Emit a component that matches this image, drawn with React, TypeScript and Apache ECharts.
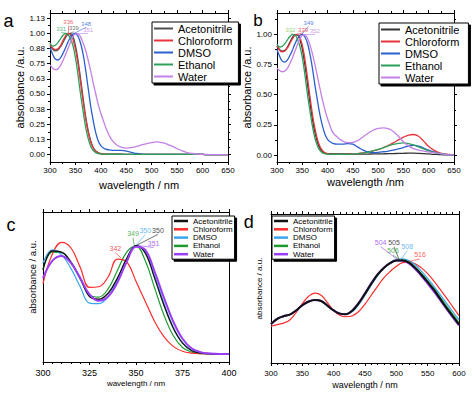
import React, { useEffect, useRef } from 'react';
import * as echarts from 'echarts';

const FONT = "'Liberation Sans', Arial, Helvetica, sans-serif";
const SOLVENTS = ['Acetonitrile', 'Chloroform', 'DMSO', 'Ethanol', 'Water'];

// ---------- panel a / b wavelengths ----------
const wavelengthAB = [300, 305, 310, 315, 320, 325, 330, 335, 340, 345, 350, 355, 360, 365, 370, 375, 380, 385, 390, 395, 400, 405, 410,
  420, 430, 440, 450, 460, 470, 480, 490, 500, 510, 520, 530, 540, 550, 560, 570, 580, 590, 600, 610, 620, 630, 640, 650];

const aAcetonitrile = [0.90, 0.87, 0.855, 0.86, 0.885, 0.92, 0.96, 0.99, 1.0, 0.975, 0.90, 0.78, 0.63, 0.47, 0.32, 0.20, 0.115, 0.06, 0.03, 0.016, 0.01, 0.007, 0.005,
  0.004, 0.004, 0.004, 0.003, 0.003, 0.003, 0.003, 0.003, 0.003, 0.003, 0.003, 0.003, 0.003, 0.003, 0.003, 0.003, 0.002, 0.002, 0.002, 0.001, 0.001, 0.001, 0, 0];
const aChloroform = [0.91, 0.88, 0.865, 0.87, 0.895, 0.935, 0.975, 1.0, 0.99, 0.95, 0.87, 0.75, 0.60, 0.44, 0.30, 0.185, 0.105, 0.055, 0.027, 0.013, 0.008, 0.006, 0.005,
  0.004, 0.004, 0.004, 0.003, 0.003, 0.003, 0.003, 0.003, 0.003, 0.003, 0.003, 0.003, 0.003, 0.003, 0.003, 0.003, 0.002, 0.002, 0.002, 0.001, 0.001, 0.001, 0, 0];
const aDMSO = [0.88, 0.83, 0.79, 0.78, 0.795, 0.83, 0.875, 0.925, 0.965, 0.993, 0.998, 0.975, 0.92, 0.83, 0.70, 0.55, 0.40, 0.28, 0.18, 0.11, 0.075, 0.055, 0.045,
  0.038, 0.036, 0.035, 0.030, 0.020, 0.010, 0.005, 0.003, 0.003, 0.003, 0.003, 0.003, 0.003, 0.003, 0.003, 0.003, 0.002, 0.002, 0.002, 0.001, 0.001, 0.001, 0, 0];
const aEthanol = [0.92, 0.895, 0.90, 0.92, 0.95, 0.98, 0.998, 0.99, 0.96, 0.90, 0.80, 0.66, 0.50, 0.36, 0.23, 0.135, 0.07, 0.035, 0.017, 0.009, 0.006, 0.005, 0.004,
  0.004, 0.004, 0.004, 0.003, 0.003, 0.003, 0.003, 0.003, 0.003, 0.003, 0.003, 0.003, 0.003, 0.003, 0.003, 0.003, 0.002, 0.002, 0.002, 0.001, 0.001, 0.001, 0, 0];
const aWater = [0.74, 0.715, 0.70, 0.705, 0.73, 0.77, 0.82, 0.87, 0.925, 0.97, 0.995, 0.995, 0.97, 0.92, 0.86, 0.78, 0.69, 0.59, 0.50, 0.41, 0.34, 0.28, 0.22,
  0.13, 0.085, 0.063, 0.055, 0.058, 0.068, 0.08, 0.092, 0.10, 0.105, 0.10, 0.088, 0.07, 0.05, 0.032, 0.018, 0.01, 0.005, 0.003, 0.002, 0.001, 0.001, 0, 0];

const bAcetonitrile = [0.905, 0.875, 0.86, 0.865, 0.89, 0.93, 0.97, 0.995, 0.995, 0.96, 0.88, 0.75, 0.60, 0.44, 0.30, 0.185, 0.105, 0.055, 0.027, 0.015, 0.012, 0.011, 0.01,
  0.01, 0.009, 0.009, 0.008, 0.008, 0.008, 0.008, 0.009, 0.009, 0.01, 0.011, 0.012, 0.013, 0.014, 0.015, 0.015, 0.014, 0.012, 0.009, 0.006, 0.004, 0.002, 0.001, 0];
const bChloroform = [0.90, 0.87, 0.855, 0.86, 0.885, 0.92, 0.96, 0.99, 1.0, 0.975, 0.91, 0.80, 0.65, 0.49, 0.34, 0.22, 0.13, 0.07, 0.035, 0.018, 0.01, 0.008, 0.006,
  0.005, 0.005, 0.006, 0.008, 0.012, 0.018, 0.025, 0.034, 0.045, 0.06, 0.08, 0.10, 0.125, 0.148, 0.165, 0.17, 0.155, 0.115, 0.07, 0.04, 0.02, 0.01, 0.004, 0];
const bDMSO = [0.875, 0.82, 0.78, 0.77, 0.785, 0.82, 0.865, 0.915, 0.96, 0.99, 1.0, 0.98, 0.93, 0.84, 0.72, 0.58, 0.45, 0.33, 0.24, 0.17, 0.13, 0.11, 0.097,
  0.09, 0.09, 0.095, 0.09, 0.065, 0.04, 0.025, 0.02, 0.022, 0.027, 0.033, 0.04, 0.05, 0.062, 0.074, 0.08, 0.074, 0.058, 0.04, 0.025, 0.014, 0.007, 0.003, 0];
const bEthanol = [0.92, 0.895, 0.90, 0.92, 0.95, 0.98, 0.997, 0.995, 0.965, 0.905, 0.81, 0.67, 0.51, 0.37, 0.24, 0.14, 0.075, 0.037, 0.018, 0.01, 0.007, 0.006, 0.005,
  0.005, 0.005, 0.006, 0.008, 0.011, 0.016, 0.024, 0.034, 0.046, 0.06, 0.075, 0.088, 0.097, 0.10, 0.095, 0.083, 0.067, 0.05, 0.035, 0.022, 0.013, 0.007, 0.003, 0];
const bWater = [0.72, 0.70, 0.69, 0.695, 0.715, 0.755, 0.80, 0.855, 0.91, 0.96, 0.99, 0.995, 0.97, 0.915, 0.84, 0.75, 0.65, 0.55, 0.455, 0.37, 0.30, 0.24, 0.19,
  0.145, 0.115, 0.102, 0.105, 0.12, 0.15, 0.18, 0.205, 0.22, 0.225, 0.218, 0.195, 0.155, 0.11, 0.075, 0.053, 0.04, 0.032, 0.026, 0.019, 0.013, 0.007, 0.003, 0];

// ---------- panel c ----------
const wavelengthC = [300, 305, 310, 315, 320, 325, 330, 335, 340, 345, 350, 355, 360, 365, 370, 375, 380, 385, 390, 395, 400];
const cAcetonitrile = [0.776, 0.95, 0.94, 0.85, 0.70, 0.53, 0.505, 0.56, 0.70, 0.88, 1.0, 0.93, 0.70, 0.45, 0.24, 0.10, 0.03, 0.008, 0.002, 0, 0];
const cChloroform = [0.65, 0.92, 1.03, 0.98, 0.80, 0.615, 0.62, 0.71, 0.875, 0.85, 0.67, 0.485, 0.30, 0.16, 0.07, 0.025, 0.008, 0.002, 0, 0, 0];
const cDMSO = [0.84, 0.96, 0.915, 0.79, 0.62, 0.47, 0.465, 0.53, 0.69, 0.88, 1.0, 0.94, 0.72, 0.47, 0.25, 0.105, 0.035, 0.01, 0.002, 0, 0];
const cEthanol = [0.78, 0.94, 0.935, 0.84, 0.69, 0.545, 0.525, 0.60, 0.77, 0.94, 0.995, 0.86, 0.61, 0.36, 0.17, 0.06, 0.017, 0.004, 0, 0, 0];
const cWater = [0.70, 0.86, 0.905, 0.84, 0.70, 0.55, 0.49, 0.53, 0.66, 0.85, 0.99, 0.96, 0.76, 0.52, 0.30, 0.14, 0.05, 0.015, 0.004, 0, 0];

// ---------- panel d ----------
const wavelengthD = [300, 310, 320, 330, 340, 350, 360, 370, 380, 390, 400, 410, 420, 430, 440, 450, 460, 470, 480, 490, 500, 510, 520, 530, 540, 550, 560, 570, 580, 590, 600];
const dAcetonitrile = [0.37, 0.42, 0.445, 0.46, 0.50, 0.55, 0.585, 0.60, 0.59, 0.545, 0.50, 0.47, 0.465, 0.50, 0.57, 0.66, 0.755, 0.84, 0.905, 0.95, 0.975, 0.975, 0.955, 0.905, 0.84, 0.77, 0.695, 0.61, 0.525, 0.445, 0.365];
const dChloroform = [0.35, 0.365, 0.38, 0.41, 0.48, 0.565, 0.635, 0.665, 0.645, 0.575, 0.50, 0.455, 0.44, 0.45, 0.49, 0.56, 0.645, 0.73, 0.81, 0.87, 0.92, 0.955, 0.96, 0.945, 0.905, 0.85, 0.78, 0.70, 0.62, 0.535, 0.45];
const dDMSO = [0.375, 0.425, 0.447, 0.462, 0.50, 0.55, 0.585, 0.60, 0.59, 0.548, 0.503, 0.473, 0.465, 0.49, 0.555, 0.645, 0.74, 0.83, 0.90, 0.955, 0.985, 0.99, 0.975, 0.935, 0.875, 0.805, 0.73, 0.65, 0.57, 0.49, 0.41];
const dEthanol = [0.373, 0.423, 0.446, 0.461, 0.50, 0.55, 0.585, 0.60, 0.59, 0.546, 0.501, 0.471, 0.465, 0.495, 0.562, 0.652, 0.748, 0.836, 0.904, 0.952, 0.98, 0.982, 0.962, 0.915, 0.852, 0.783, 0.71, 0.628, 0.545, 0.465, 0.385];
const dWater = [0.368, 0.42, 0.445, 0.46, 0.50, 0.55, 0.585, 0.60, 0.59, 0.545, 0.50, 0.47, 0.465, 0.502, 0.573, 0.663, 0.758, 0.843, 0.906, 0.95, 0.975, 0.972, 0.948, 0.895, 0.828, 0.755, 0.68, 0.598, 0.515, 0.435, 0.358];

// ---------- tick values ----------
const aYMajor = [0, 0.125, 0.25, 0.375, 0.5, 0.625, 0.75, 0.875, 1.0, 1.125];
const aYMinor = [0.0625, 0.1875, 0.3125, 0.4375, 0.5625, 0.6875, 0.8125, 0.9375, 1.0625];
const bYMajor = [0, 0.25, 0.5, 0.75, 1.0];
const bYMinor = [0.125, 0.375, 0.625, 0.875, 1.125];

// ---------- peak annotations (label position and peak, data units) ----------
const colAB = ['#505050', '#e8343c', '#2a5fcf', '#2ca05a', '#c480e6'];
const colCD = ['#111111', '#ff2b2b', '#3aa5f0', '#1e9a2e', '#9b3df5'];

const aPeakLabels = ['331', '336', '339', '348', '351'];
const aPeakLabelX = [322, 336, 347, 371, 375];
const aPeakLabelY = [1.035, 1.09, 1.04, 1.077, 1.027];
const aPeakX = [331, 336, 339, 348, 351];
const aPeakColor = [colAB[3], colAB[1], colAB[0], colAB[2], colAB[4]];

const bPeakLabels = ['332', '339', '349', '352'];
const bPeakLabelX = [326.5, 351.5, 362.5, 375];
const bPeakLabelY = [1.04, 1.04, 1.095, 1.025];
const bPeakX = [332, 339, 349, 352];
const bPeakColor = ['#7cc84a', colAB[1], colAB[2], colAB[4]];

const cPeakLabels = ['342', '349', '350', '350', '351'];
const cPeakLabelX = [338.9, 348.4, 355, 361.8, 359.5];
const cPeakLabelY = [0.972, 1.11, 1.14, 1.14, 1.02];
const cPeakX = [342, 349, 350, 350, 351];
const cPeakY = [0.885, 1.0, 1.0, 1.0, 1.0];
const cPeakColor = [colCD[1], colCD[3], colCD[2], colCD[0], colCD[4]];

const dPeakLabels = ['504', '505', '506', '508', '516'];
const dPeakLabelX = [474.9, 496.3, 494.7, 517.5, 537.8];
const dPeakLabelY = [1.145, 1.145, 1.066, 1.107, 1.028];
const dPeakX = [504, 505, 506, 508, 516];
const dPeakY = [0.975, 0.975, 0.98, 0.99, 0.96];
const dPeakColor = [colCD[4], colCD[0], colCD[3], colCD[2], colCD[1]];

type Anno = { text: string; x: number; y: number; px: number; py: number; color: string };
const mkAnnos = (t: string[], lx: number[], ly: number[], px: number[], py: number[], c: string[]): Anno[] =>
  t.map((s, i) => ({ text: s, x: lx[i], y: ly[i], px: px[i], py: py[i], color: c[i] }));

interface Panel {
  letter: string; letterX: number; letterY: number; letterSize: number;
  grid: { left: number; top: number; width: number; height: number };
  xMin: number; xMax: number; xInterval: number; xMinorSplit: number;
  yMin: number; yMax: number; yMajor?: number[]; yMinor?: number[];
  tickFont: number; xLabelMargin: number;
  xName: string; xNameGap: number; xNameSize: number;
  yName: string; yNameGap: number; yNameSize: number; yNameShift: number;
  wl: number[]; values: number[][]; colors: string[]; widths: number[]; zs: number[];
  legend: { left: number; top: number; fontSize: number; itemWidth: number; itemHeight: number; rowGap: number; padRight: number };
  annos: Anno[]; annoSize: number; annoDy: number;
}

function buildOption(p: Panel): any {
  const ls = { color: '#000', width: 1 };
  const xBase = {
    type: 'value', gridIndex: 0, min: p.xMin, max: p.xMax, interval: p.xInterval,
    splitLine: { show: false }, minorSplitLine: { show: false },
    axisLine: { show: true, onZero: false, lineStyle: ls },
    axisTick: { show: true, inside: false, length: 3, lineStyle: ls },
    minorTick: { show: true, splitNumber: p.xMinorSplit, length: 2, lineStyle: ls },
  };
  const xAxis = [
    {
      ...xBase, position: 'bottom',
      axisLabel: { show: true, fontSize: p.tickFont, fontFamily: FONT, color: '#000', margin: p.xLabelMargin },
      name: p.xName, nameLocation: 'middle', nameGap: p.xNameGap,
      nameTextStyle: { fontSize: p.xNameSize, fontFamily: FONT, color: '#000' },
    },
    { ...xBase, position: 'top', axisLabel: { show: false } },
  ];
  const yBase = {
    type: 'value', gridIndex: 0, min: p.yMin, max: p.yMax,
    splitLine: { show: false },
    axisLine: { show: true, onZero: false, lineStyle: ls },
  };
  const yNameCfg = {
    name: p.yName, nameLocation: 'middle', nameGap: p.yNameGap,
    nameTextStyle: { fontSize: p.yNameSize, fontFamily: FONT, color: '#000', padding: [0, 0, 0, p.yNameShift * 2] },
  };
  let yAxis: any[];
  if (p.yMajor) {
    yAxis = [
      {
        ...yBase, position: 'left', ...yNameCfg,
        axisTick: { show: true, length: 3, customValues: p.yMajor, lineStyle: ls },
        axisLabel: { show: true, customValues: p.yMajor, formatter: (v: number) => v.toFixed(2), fontSize: p.tickFont, fontFamily: FONT, color: '#000', margin: 5 },
      },
      { ...yBase, position: 'right', axisTick: { show: true, length: 3, customValues: p.yMajor, lineStyle: ls }, axisLabel: { show: false } },
      { ...yBase, position: 'left', axisLine: { show: false }, axisTick: { show: true, length: 2, customValues: p.yMinor, lineStyle: ls }, axisLabel: { show: false } },
      { ...yBase, position: 'right', axisLine: { show: false }, axisTick: { show: true, length: 2, customValues: p.yMinor, lineStyle: ls }, axisLabel: { show: false } },
    ];
  } else {
    yAxis = [
      { ...yBase, position: 'left', ...yNameCfg, axisTick: { show: false }, axisLabel: { show: false } },
      { ...yBase, position: 'right', axisTick: { show: false }, axisLabel: { show: false } },
    ];
  }
  const series: any[] = p.values.map((vals, i) => ({
    type: 'line', name: SOLVENTS[i], xAxisIndex: 0, yAxisIndex: 0,
    data: p.wl.map((x, j) => [x, vals[j]]),
    smooth: 0.4, symbol: 'none', showSymbol: false,
    lineStyle: { color: p.colors[i], width: p.widths[i] },
    itemStyle: { color: p.colors[i] },
    z: 2 + p.zs[i],
  }));
  series.push({
    type: 'scatter', name: 'peaks', xAxisIndex: 0, yAxisIndex: 0, symbolSize: 1, silent: true, z: 10,
    itemStyle: { color: 'transparent' },
    data: p.annos.map((a) => ({
      value: [a.x, a.y],
      label: { show: true, position: 'inside', formatter: a.text, color: a.color, fontSize: p.annoSize, fontFamily: FONT },
    })),
    markLine: {
      silent: true, symbol: ['none', 'none'], label: { show: false },
      lineStyle: { width: 0.6, type: 'solid' },
      data: p.annos.map((a) => [
        { coord: [a.x, a.y - p.annoDy], lineStyle: { color: a.color, width: 0.6, type: 'solid' } },
        { coord: [a.px, a.py] },
      ]),
    },
  });
  return {
    animation: false,
    grid: { ...p.grid, containLabel: false, outerBoundsMode: 'none' },
    xAxis, yAxis, series,
    legend: {
      left: p.legend.left, top: p.legend.top, orient: 'vertical', selectedMode: false,
      icon: 'rect', itemWidth: p.legend.itemWidth, itemHeight: p.legend.itemHeight, itemGap: p.legend.rowGap,
      padding: [1, p.legend.padRight, 1, 2], backgroundColor: '#fff', borderColor: '#000', borderWidth: 1,
      shadowColor: 'rgba(0,0,0,1)', shadowBlur: 0, shadowOffsetX: 2, shadowOffsetY: 2,
      textStyle: { fontSize: p.legend.fontSize, fontFamily: FONT, color: '#000', lineHeight: p.legend.fontSize },
      data: SOLVENTS.map((n, i) => ({ name: n, itemStyle: { color: p.colors[i] } })),
    },
    graphic: [{
      type: 'text', x: p.letterX, y: p.letterY, silent: true,
      style: { text: p.letter, fontSize: p.letterSize, fontFamily: FONT, fill: '#000', align: 'center', verticalAlign: 'middle' },
    }],
  };
}

const panels: Panel[] = [
  {
    letter: 'a', letterX: 8.5, letterY: 21, letterSize: 18,
    grid: { left: 50, top: 13, width: 178, height: 149 },
    xMin: 300, xMax: 650, xInterval: 50, xMinorSplit: 2,
    yMin: -0.06, yMax: 1.167, yMajor: aYMajor, yMinor: aYMinor,
    tickFont: 8, xLabelMargin: 4,
    xName: 'wavelength / nm', xNameGap: 17, xNameSize: 11,
    yName: 'absorbance /a.u.', yNameGap: 23, yNameSize: 11, yNameShift: 0,
    wl: wavelengthAB, values: [aAcetonitrile, aChloroform, aDMSO, aEthanol, aWater],
    colors: colAB, widths: [1.3, 1.3, 1.3, 1.3, 1.3], zs: [0, 1, 2, 3, 4],
    legend: { left: 152, top: 22, fontSize: 11, itemWidth: 19, itemHeight: 2, rowGap: 1, padRight: 6 },
    annos: mkAnnos(aPeakLabels, aPeakLabelX, aPeakLabelY, aPeakX, [1, 1, 1, 1, 1], aPeakColor),
    annoSize: 6, annoDy: 0.028,
  },
  {
    letter: 'b', letterX: 258, letterY: 20.5, letterSize: 17,
    grid: { left: 277, top: 13, width: 177, height: 149 },
    xMin: 300, xMax: 650, xInterval: 50, xMinorSplit: 2,
    yMin: -0.058, yMax: 1.177, yMajor: bYMajor, yMinor: bYMinor,
    tickFont: 8, xLabelMargin: 4,
    xName: 'wavelength /nm', xNameGap: 14, xNameSize: 11,
    yName: 'absorbance /a.u.', yNameGap: 21, yNameSize: 11, yNameShift: 0,
    wl: wavelengthAB, values: [bAcetonitrile, bChloroform, bDMSO, bEthanol, bWater],
    colors: ['#333333', colAB[1], colAB[2], colAB[3], colAB[4]], widths: [1.3, 1.3, 1.3, 1.3, 1.3], zs: [0, 1, 2, 3, 4],
    legend: { left: 379, top: 23, fontSize: 11, itemWidth: 19, itemHeight: 2, rowGap: 1, padRight: 9 },
    annos: mkAnnos(bPeakLabels, bPeakLabelX, bPeakLabelY, bPeakX, [1, 1, 1, 1], bPeakColor),
    annoSize: 6, annoDy: 0.028,
  },
  {
    letter: 'c', letterX: 11, letterY: 224.5, letterSize: 18,
    grid: { left: 43, top: 212, width: 186, height: 150 },
    xMin: 300, xMax: 400, xInterval: 25, xMinorSplit: 5,
    yMin: -0.074, yMax: 1.31,
    tickFont: 9, xLabelMargin: 6.5,
    xName: 'wavelength / nm', xNameGap: 17, xNameSize: 8,
    yName: 'absorbance / a.u.', yNameGap: 6, yNameSize: 9.5, yNameShift: 10,
    wl: wavelengthC, values: [cAcetonitrile, cChloroform, cDMSO, cEthanol, cWater],
    colors: colCD, widths: [1.3, 1.2, 1.2, 1.2, 2], zs: [3, 1, 2, 0, 4],
    legend: { left: 172, top: 216, fontSize: 8, itemWidth: 14, itemHeight: 2.5, rowGap: 0.3, padRight: 2 },
    annos: mkAnnos(cPeakLabels, cPeakLabelX, cPeakLabelY, cPeakX, cPeakY, cPeakColor),
    annoSize: 7, annoDy: 0.037,
  },
  {
    letter: 'd', letterX: 248.7, letterY: 222, letterSize: 18,
    grid: { left: 271, top: 214, width: 188, height: 149 },
    xMin: 300, xMax: 600, xInterval: 50, xMinorSplit: 5,
    yMin: 0, yMax: 1.418,
    tickFont: 8, xLabelMargin: 6,
    xName: 'wavelength / nm', xNameGap: 17.5, xNameSize: 9,
    yName: 'absorbance / a.u.', yNameGap: 8, yNameSize: 8, yNameShift: 0,
    wl: wavelengthD, values: [dAcetonitrile, dChloroform, dDMSO, dEthanol, dWater],
    colors: colCD, widths: [2, 1.2, 1.2, 1.2, 2], zs: [4, 0, 1, 2, 3],
    legend: { left: 272, top: 216, fontSize: 8, itemWidth: 14, itemHeight: 2.5, rowGap: 0.3, padRight: 2 },
    annos: mkAnnos(dPeakLabels, dPeakLabelX, dPeakLabelY, dPeakX, dPeakY, dPeakColor),
    annoSize: 7, annoDy: 0.038,
  },
];

export default function App() {
  const refs = [useRef<HTMLDivElement>(null), useRef<HTMLDivElement>(null), useRef<HTMLDivElement>(null), useRef<HTMLDivElement>(null)];
  useEffect(() => {
    const charts = panels.map((p, i) => {
      const c = echarts.init(refs[i].current as HTMLDivElement, undefined, { renderer: 'svg' });
      c.setOption(buildOption(p));
      return c;
    });
    return () => charts.forEach((c) => c.dispose());
  }, []);
  return (
    <div style={{ position: 'absolute', left: 0, top: 0, width: 474, height: 397, background: '#fff', overflow: 'hidden' }}>
      {panels.map((p, i) => (
        <div key={p.letter} ref={refs[i]} style={{ position: 'absolute', left: 0, top: 0, width: 474, height: 397 }} />
      ))}
    </div>
  );
}
